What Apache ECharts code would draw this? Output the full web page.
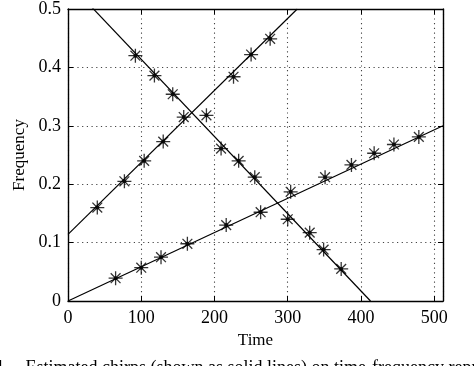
<!DOCTYPE html>
<html>
<head>
<meta charset="utf-8">
<script src="https://cdn.jsdelivr.net/npm/echarts@6/dist/echarts.min.js"></script>
<style>html,body{margin:0;padding:0;background:#fff}#c{width:474px;height:366px}</style>
</head>
<body>
<div id="c"></div>
<script>
// Solid fitted chirp lines (endpoints in data units; clipped by the axes)
const lineA = [[0, 0.546], [413, 0]];
const lineB = [[0, 0.114], [313, 0.5]];
const lineC = [[0, 0], [512, 0.3]];

// Estimated points (asterisks)
const pointsA = [[92, 0.42], [118, 0.386], [143, 0.354], [189, 0.318], [209, 0.261], [233, 0.240], [255, 0.212], [300, 0.140], [330, 0.117], [349, 0.088], [373, 0.055]];
const pointsB = [[40, 0.160], [77, 0.205], [104, 0.240], [130, 0.273], [158, 0.315], [226, 0.384], [250, 0.422], [276, 0.449]];
const pointsC = [[65, 0.039], [100, 0.057], [127, 0.075], [163, 0.098], [216, 0.130], [263, 0.152], [304, 0.187], [351, 0.212], [387, 0.233], [418, 0.253], [445, 0.268], [479, 0.281]];

const xTicks = [0, 100, 200, 300, 400, 500];
const yTicks = [0, 0.1, 0.2, 0.3, 0.4, 0.5];
const xLabel = 'Time';
const yLabel = 'Frequency';
const caption = '4.    Estimated chirps (shown as solid lines) on time-frequency representation';

const FONT = 'Liberation Serif';
const allPoints = pointsA.concat(pointsB, pointsC);
const star = 'path://M0,-10L0,10M-10,0L10,0M-7,-7L7,7M-7,7L7,-7';

const chart = echarts.init(document.getElementById('c'), null, {renderer: 'canvas'});
const lineSeries = (d) => ({type: 'line', data: d, showSymbol: false, clip: true, silent: true,
  lineStyle: {color: '#000', width: 1.2}, animation: false});
chart.setOption({
  animation: false,
  backgroundColor: '#fff',
  grid: {left: 68, right: 31, top: 6, bottom: 65, containLabel: false},
  xAxis: [{
    type: 'value', min: 0, max: 512, interval: 100,
    name: xLabel, nameLocation: 'middle', nameGap: 21,
    nameTextStyle: {fontFamily: FONT, fontSize: 17, color: '#000'},
    axisLine: {show: true, onZero: false, lineStyle: {color: '#000', width: 1.4}},
    axisTick: {show: true, inside: true, length: 5, lineStyle: {color: '#000'}},
    axisLabel: {fontFamily: FONT, fontSize: 18, color: '#000', margin: 8,
      formatter: v => xTicks.includes(v) ? String(v) : ''},
    splitLine: {show: true, lineStyle: {color: '#444', type: [1.2, 3.5], width: 1.1}}
  }, {
    type: 'value', min: 0, max: 512, interval: 100, position: 'top',
    axisLine: {show: true, onZero: false, lineStyle: {color: '#000', width: 1.4}},
    axisTick: {show: true, inside: true, length: 5, lineStyle: {color: '#000'}},
    axisLabel: {show: false}, splitLine: {show: false}
  }],
  yAxis: [{
    type: 'value', min: 0, max: 0.5, interval: 0.1,
    name: yLabel, nameLocation: 'middle', nameGap: 33, nameRotate: 90,
    nameTextStyle: {fontFamily: FONT, fontSize: 17, color: '#000'},
    axisLine: {show: true, onZero: false, lineStyle: {color: '#000', width: 1.4}},
    axisTick: {show: true, inside: true, length: 5, lineStyle: {color: '#000'}},
    axisLabel: {fontFamily: FONT, fontSize: 18, color: '#000', margin: 7,
      formatter: v => String(+v.toFixed(1))},
    splitLine: {show: true, lineStyle: {color: '#444', type: [1.2, 3.5], width: 1.1}}
  }, {
    type: 'value', min: 0, max: 0.5, interval: 0.1, position: 'right',
    axisLine: {show: true, onZero: false, lineStyle: {color: '#000', width: 1.4}},
    axisTick: {show: true, inside: true, length: 5, lineStyle: {color: '#000'}},
    axisLabel: {show: false}, splitLine: {show: false}
  }],
  series: [
    lineSeries(lineA), lineSeries(lineB), lineSeries(lineC),
    {type: 'scatter', data: allPoints, symbol: star, symbolSize: 14, silent: true,
      itemStyle: {color: 'none', borderColor: '#000', borderWidth: 1.3}},
    {type: 'scatter', data: allPoints, symbol: 'circle', symbolSize: 4, silent: true,
      itemStyle: {color: '#000'}}
  ],
  graphic: [{
    type: 'text', left: -6, top: 359, silent: true,
    style: {text: caption, font: '18px "Liberation Serif"', fill: '#000'}
  }]
});
</script>
</body>
</html>
